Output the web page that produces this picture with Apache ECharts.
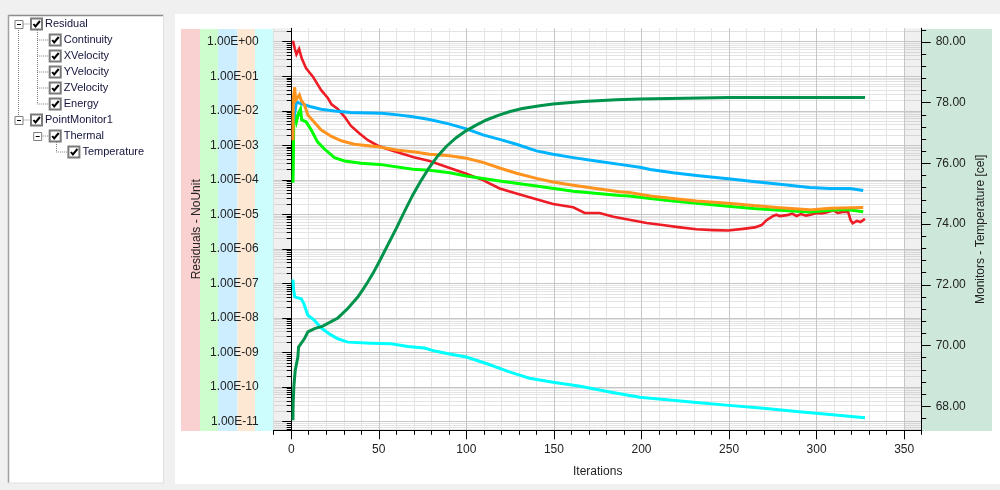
<!DOCTYPE html>
<html><head><meta charset="utf-8">
<style>html,body{margin:0;padding:0;background:#f0f0f0;overflow:hidden}#c{width:1000px;height:490px}</style>
<script src="https://cdn.jsdelivr.net/npm/echarts@6/dist/echarts.min.js"></script>
</head><body><div id="c"></div>
<script>
const treeLabels = ["Residual","Continuity","XVelocity","YVelocity","ZVelocity","Energy","PointMonitor1","Thermal","Temperature"];
const treeDepth = [0,1,1,1,1,1,0,1,2];
const decadeLabels = ["1.00E+00","1.00E-01","1.00E-02","1.00E-03","1.00E-04","1.00E-05","1.00E-06","1.00E-07","1.00E-08","1.00E-09","1.00E-10","1.00E-11"];
const decades = [1,1e-1,1e-2,1e-3,1e-4,1e-5,1e-6,1e-7,1e-8,1e-9,1e-10,1e-11];
const iterationTicks = [0,50,100,150,200,250,300,350];
const temperatureTicks = [68,70,72,74,76,78,80];

const continuityIter = [1,2,3,4.5,6,8.5,12.4,17,21,23,26.6,30.5,34,39,43.8,49.5,57,63,70,79,90.5,100,109.5,119,128.6,140,149.5,161,167.6,176,184,193,203,212,222,231.4,241,249.5,258,264.7,268.6,271.4,275,277,279,283,286,288.6,291,294,297,300,303,306,309.5,312,315,318,319.4,320.6,323,325,327.6];
const continuityVal = [1.07,0.64,0.43,0.62,0.33,0.17,0.097,0.04,0.023,0.0153,0.0112,0.0067,0.0037,0.0022,0.0014,0.00097,7.2e-4,5.8e-4,4.5e-4,3.5e-4,2.2e-4,1.5e-4,9.8e-5,5.6e-5,4e-5,2.75e-5,2e-5,1.6e-5,1.1e-5,1.1e-5,8.5e-6,7e-6,5.6e-6,4.9e-6,4.2e-6,3.7e-6,3.5e-6,3.4e-6,3.8e-6,4.2e-6,4.9e-6,6.8e-6,8.9e-6,9.8e-6,8.9e-6,9.5e-6,1.05e-5,9e-6,1.02e-5,9.2e-6,1e-5,1.1e-5,1.07e-5,1.15e-5,1.3e-5,1.1e-5,1.18e-5,1.18e-5,6.8e-6,5.5e-6,6.5e-6,6e-6,7.4e-6];

const yVelocityIter = [1,3,5.7,11.4,17,24.7,34,51.4,61,69.5,79,90.5,100,109.5,119,128.6,140,149.5,161,174,187.6,199,205,218,231.4,249.5,263.8,279,296,307.6,319,326.6];
const yVelocityVal = [4.3e-3,0.018,0.016,0.013,0.011,0.0098,0.0089,0.0085,0.0076,0.0067,0.0056,0.0041,0.003,0.002,0.00148,0.00107,6.9e-4,5.5e-4,4.4e-4,3.5e-4,2.8e-4,2.3e-4,2e-4,1.6e-4,1.34e-4,1.07e-4,8.9e-5,7.5e-5,6e-5,5.6e-5,5.6e-5,4.9e-5];

const xVelocityIter = [1,1.2,1.5,2,3,4.2,5.3,6,8.5,11.4,15,19,24.7,30.5,40,50.4,69.5,79,90.5,100,119,140,161,187.6,193,205,218,231.4,249.5,263.8,279,296,307.6,317,326.6];
const xVelocityVal = [8.2e-5,3e-4,0.0105,0.0117,0.0048,0.0085,0.0112,0.0054,0.0048,0.0028,0.00126,7.8e-4,4.4e-4,3.5e-4,3e-4,2.8e-4,2.04e-4,1.9e-4,1.6e-4,1.3e-4,9.3e-5,6.6e-5,4.7e-5,3.5e-5,3.4e-5,2.9e-5,2.45e-5,2.1e-5,1.73e-5,1.48e-5,1.32e-5,1.18e-5,1.32e-5,1.38e-5,1.2e-5];

const zVelocityIter = [1,1.2,2,2.5,4.7,5.7,7.6,9.5,13.3,17,23,28.6,36,49.5,61,69.5,79,90.5,100,109.5,119,128.6,140,149.5,161,174,187.6,193,205,218,231.4,249.5,263.8,279,296,307.6,326.6];
const zVelocityVal = [1.4e-3,0.023,0.048,0.02,0.029,0.02,0.0147,0.0075,0.0046,0.0028,0.0018,0.00135,0.00107,9.1e-4,7.2e-4,6.5e-4,5.5e-4,5e-4,4.2e-4,3.2e-4,2.2e-4,1.55e-4,1.1e-4,8.7e-5,7e-5,5.6e-5,4.5e-5,4.3e-5,3.4e-5,2.9e-5,2.45e-5,2.1e-5,1.8e-5,1.55e-5,1.35e-5,1.5e-5,1.58e-5];

const energyIter = [1,1.3,2,5.7,7.2,9.5,13.3,17,22,26.6,32.3,45.7,57,66.6,76,82,90.5,100,111.4,125,136,149.5,165,182,199,216,233,250,269.6,288.6,307.6,327.6];
const energyVal = [1.3e-7,7e-8,4.1e-8,3.6e-8,2.6e-8,1.2e-8,8.5e-9,5.2e-9,3.4e-9,2.5e-9,2e-9,1.86e-9,1.8e-9,1.5e-9,1.35e-9,1.1e-9,9.1e-10,7.4e-10,4.8e-10,2.7e-10,1.8e-10,1.38e-10,1.05e-10,7.2e-11,5.1e-11,4.2e-11,3.5e-11,2.95e-11,2.45e-11,1.95e-11,1.6e-11,1.3e-11];

const temperatureIter = [1,1.1,1.5,2.3,3.8,4.2,7.6,9.5,13.3,18,26.6,32.3,38,41,43.8,46.6,50.4,55.2,60,64.7,69.5,74.3,79,83.6,88.4,94,100,105.6,111.4,119,125,132,142,149.5,166.6,185.7,199,250,327.6];
const temperatureVal = [67.54,68.09,68.64,69.19,69.62,69.95,70.23,70.45,70.56,70.64,70.91,71.22,71.6,71.85,72.1,72.37,72.78,73.32,73.86,74.42,74.97,75.45,75.88,76.24,76.55,76.84,77.08,77.26,77.43,77.6,77.71,77.81,77.90,77.96,78.04,78.10,78.12,78.17,78.17];

const zip = (a,b)=>a.map((x,i)=>[x,b[i]]);
const logMin = 5.6e-12, logMax = 2.44, tMin = 67.21, tMax = 80.45;
const logMinor = [];
for (let k=-12;k<=0;k++) for (let m=2;m<=9;m++){const v=parseFloat(m+'e'+k); if(v>=logMin&&v<=logMax) logMinor.push(v);}
const tempMinor = [];
for (let i=0;i<34;i++){const v=67.2+i*0.4; if(v>=tMin&&v<=tMax) tempMinor.push(+v.toFixed(1));}

const G=[];
const rect=(x,y,w,h,fill,z)=>G.push({type:'rect',shape:{x,y,width:w,height:h},style:{fill},silent:true,z:z||0});
const line=(x1,y1,x2,y2,stroke,lw,dash,z)=>G.push({type:'line',shape:{x1,y1,x2,y2},style:{stroke,lineWidth:lw||1,lineDash:dash||null},silent:true,z:z||1});
// panels
rect(175,14,825,470,'#ffffff');
rect(8,15,156,468,'#ffffff');
line(8,15.5,164,15.5,'#8c8c8c',1.5); line(8.5,15,8.5,483,'#a0a0a0',1.5);
line(163.5,15,163.5,483,'#e0e0e0',1); line(8,483,164,483,'#e0e0e0',1);
// colour bands
rect(181,29,19,402,'#fad1d1'); rect(200,29,18,402,'#cdfdcd'); rect(218,29,19.5,402,'#cdeeff');
rect(237.5,29,17.5,402,'#fde8d3'); rect(255,29,19,402,'#cdfdfd'); rect(922,29,70,402,'#cde8da');
// tree
const rowY=i=>24+16*i, boxX=d=>36.5+18.7*d;
line(18.5,24,18.5,120,'#808080',1,[1,1]); line(37.5,24,37.5,104,'#808080',1,[1,1]); line(56.5,136,56.5,152,'#808080',1,[1,1]);
treeLabels.forEach((t,i)=>{
  const d=treeDepth[i], y=rowY(i), bx=boxX(d);
  if(i===0||i===6||i===7){
    const ex=bx-18;
    line(ex,y,ex+12,y,'#808080',1,[1,1]);
    G.push({type:'rect',shape:{x:ex-3.5,y:y-3.5,width:8,height:8},style:{fill:'#fff',stroke:'#808080',lineWidth:1},silent:true,z:2});
    line(ex-1.5,y+.5,ex+2.5,y+.5,'#000',1,null,3);
  } else line(bx-18,y,bx-6,y,'#808080',1,[1,1]);
  G.push({type:'rect',shape:{x:bx-5.5,y:y-5.5,width:11,height:11},style:{fill:'#fff',stroke:'#7a7a7a',lineWidth:2},silent:true,z:2});
  G.push({type:'polyline',shape:{points:[[bx-3,y],[bx-1,y+2.5],[bx+3.5,y-3]]},style:{stroke:'#000',lineWidth:2,fill:null},silent:true,z:3});
  G.push({type:'text',x:bx+8.5,y:y,style:{text:t,font:'11px "Liberation Sans",sans-serif',fill:'#14143c',textVerticalAlign:'middle',textAlign:'left'},silent:true,z:3});
});

const ser=(name,x,y,color,width,yi,extra)=>Object.assign({name,type:'line',data:zip(x,y),xAxisIndex:0,yAxisIndex:yi,showSymbol:false,symbol:'none',
  lineStyle:{color,width,join:'miter'},silent:true,animation:false},extra||{});

const labelFont={fontFamily:'"Liberation Sans",sans-serif',fontSize:12,color:'#222'};
const nameFont={fontFamily:'"Liberation Sans",sans-serif',fontSize:12,color:'#222'};
const gridSpec={left:273.7,right:78.3,top:28.3,bottom:59.7};

const chart=echarts.init(document.getElementById('c'),null,{renderer:'canvas'});
chart.setOption({
  animation:false,
  backgroundColor:'#f0f0f0',
  graphic:{elements:G},
  grid:Object.assign({show:true,backgroundColor:'#ffffff',borderColor:'#000',borderWidth:1,containLabel:false},gridSpec),
  xAxis:[
    {type:'value',min:-10,max:360,position:'bottom',z:2,name:'Iterations',nameLocation:'middle',nameGap:35,nameMoveOverlap:false,nameTextStyle:nameFont,
     axisLine:{show:true,lineStyle:{color:'#000'}},
     axisTick:{show:true,length:9,customValues:iterationTicks,lineStyle:{color:'#000'}},
     axisLabel:Object.assign({show:true,margin:13,customValues:iterationTicks},labelFont),
     splitLine:{show:true,lineStyle:{color:'#c6c6c6',width:1}}},
    {type:'value',min:-10,max:360,interval:10,position:'bottom',z:1,
     axisLine:{show:true,lineStyle:{color:'#000'}},
     axisTick:{show:true,length:4.5,lineStyle:{color:'#000'}},
     axisLabel:{show:false},
     splitLine:{show:true,lineStyle:{color:'#e4e4e4',width:1}}}
  ],
  yAxis:[
    {type:'log',min:logMin,max:logMax,logBase:10,position:'left',z:2,name:'Residuals - NoUnit',nameLocation:'middle',nameGap:71,nameMoveOverlap:false,nameRotate:90,nameTextStyle:nameFont,
     axisLine:{show:true,lineStyle:{color:'#000'}},
     axisTick:{show:true,length:9,customValues:decades,lineStyle:{color:'#000'}},
     axisLabel:Object.assign({show:true,margin:15,customValues:decades,formatter:v=>{const i=decades.findIndex(d=>Math.abs(Math.log10(d)-Math.log10(v))<1e-6);return i<0?'':decadeLabels[i];}},labelFont),
     splitLine:{show:true,lineStyle:{color:'#c6c6c6',width:1}}},
    {type:'log',min:logMin,max:logMax,logBase:10,position:'left',z:1,
     axisLine:{show:true,lineStyle:{color:'#000'}},
     axisTick:{show:true,length:4.5,customValues:logMinor,lineStyle:{color:'#000'}},
     axisLabel:{show:false},
     splitLine:{show:true,lineStyle:{color:'#e4e4e4',width:1}}},
    {type:'value',min:tMin,max:tMax,position:'right',z:2,name:'Monitors - Temperature [cel]',nameLocation:'middle',nameGap:53,nameMoveOverlap:false,nameRotate:90,nameTextStyle:nameFont,
     axisLine:{show:true,lineStyle:{color:'#000'}},
     axisTick:{show:true,length:9,customValues:temperatureTicks,lineStyle:{color:'#000'}},
     axisLabel:Object.assign({show:true,margin:14,customValues:temperatureTicks,formatter:v=>v.toFixed(2)},labelFont),
     splitLine:{show:false}},
    {type:'value',min:tMin,max:tMax,position:'right',z:1,
     axisLine:{show:true,lineStyle:{color:'#000'}},
     axisTick:{show:true,length:4.5,customValues:tempMinor,lineStyle:{color:'#000'}},
     axisLabel:{show:false},splitLine:{show:false}}
  ],
  series:[
    ser('Continuity',continuityIter,continuityVal,'#ee1c25',2.6,0,{z:3,markArea:{silent:true,itemStyle:{color:'rgba(0,0,0,0.06)'},data:[[{xAxis:-10},{xAxis:0}],[{xAxis:350},{xAxis:360}]]}}),
    ser('XVelocity',xVelocityIter,xVelocityVal,'#00ff00',3,0,{z:4}),
    ser('YVelocity',yVelocityIter,yVelocityVal,'#00b3ff',3,0,{z:5}),
    ser('ZVelocity',zVelocityIter,zVelocityVal,'#ff931e',3,0,{z:6}),
    ser('Energy',energyIter,energyVal,'#00ffff',3,0,{z:7}),
    ser('Temperature',temperatureIter,temperatureVal,'#00934b',3,2,{z:8})
  ]
});
</script></body></html>
